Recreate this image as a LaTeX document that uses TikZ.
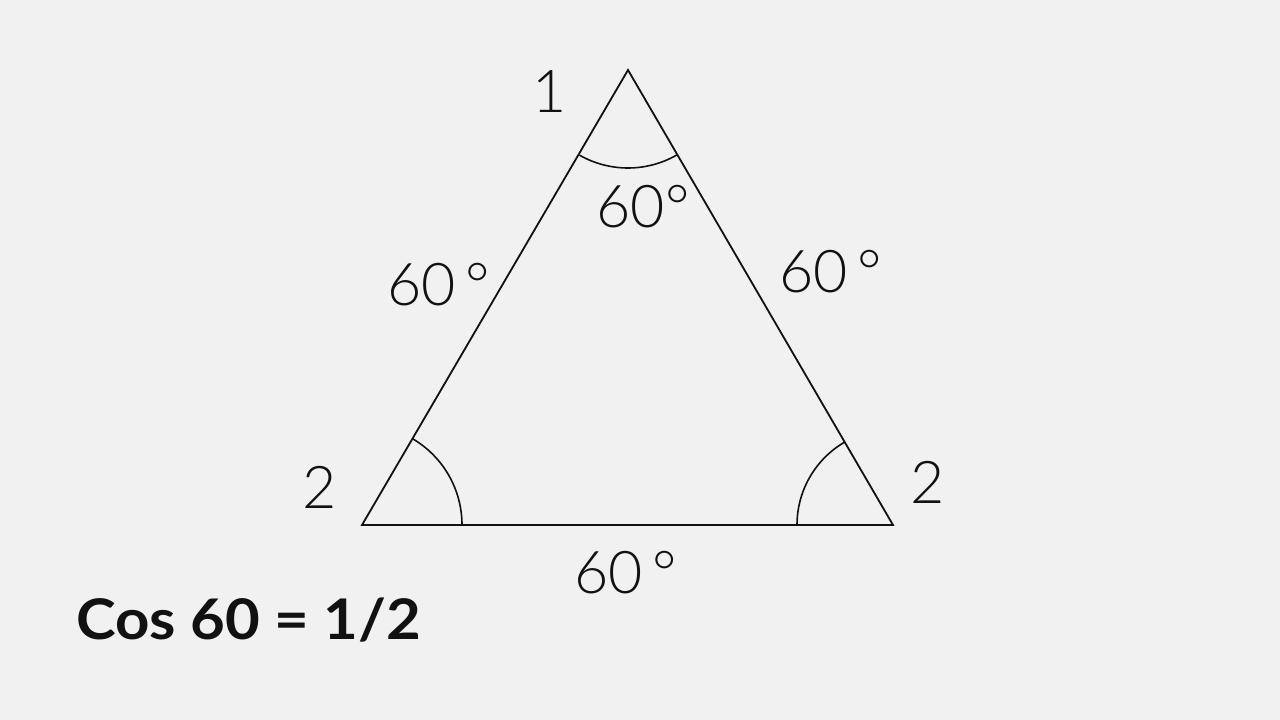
\documentclass[tikz,border=0pt]{standalone}
\usepackage{fontspec}
\setmainfont{Lato Light}
\newfontfamily\boldf{Lato Bold}
\definecolor{bg}{HTML}{F1F1F1}
\definecolor{ink}{HTML}{111111}
\begin{document}
\begin{tikzpicture}[x=1pt,y=-1pt,
  lbl/.style={font=\fontsize{59}{59}\selectfont, text=ink, inner sep=0pt},
  edge/.style={draw=ink, line width=1.8pt, line join=miter},
  arcs/.style={draw=ink, line width=1.6pt}]
\fill[bg] (0,0) rectangle (1280,720);
\useasboundingbox (0,0) rectangle (1280,720);
\coordinate (A) at (628,70);
\coordinate (B) at (362,525);
\coordinate (C) at (893,525);
\draw[edge] (A) -- (B) -- (C) -- cycle;
% angle arcs
\draw[arcs] ([shift={(119.7:98)}]A) arc[start angle=119.7, end angle=60.2, radius=98];
\draw[arcs] ([shift={(0:100)}]B) arc[start angle=0, end angle=-59.7, radius=100];
\draw[arcs] ([shift={(180:96)}]C) arc[start angle=180, end angle=239.8, radius=96];
% labels
\node[lbl] (one) at (550,92) {1};
\node[lbl] (t60) at (643,207) {60°};
\node[lbl] (l60) at (439,285) {60\,°};
\node[lbl] (r60) at (831,272) {60\,°};
\node[lbl] (b60) at (626,573) {60\,°};
\node[lbl] (l2) at (320,487) {2};
\node[lbl] (r2) at (928,482) {2};
\node[inner sep=0pt, anchor=west, text=ink, xscale=1.07, transform shape, font=\boldf\fontsize{56}{56}\selectfont] (cos) at (76,620) {Cos 60 = 1/2};
\end{tikzpicture}
\end{document}
